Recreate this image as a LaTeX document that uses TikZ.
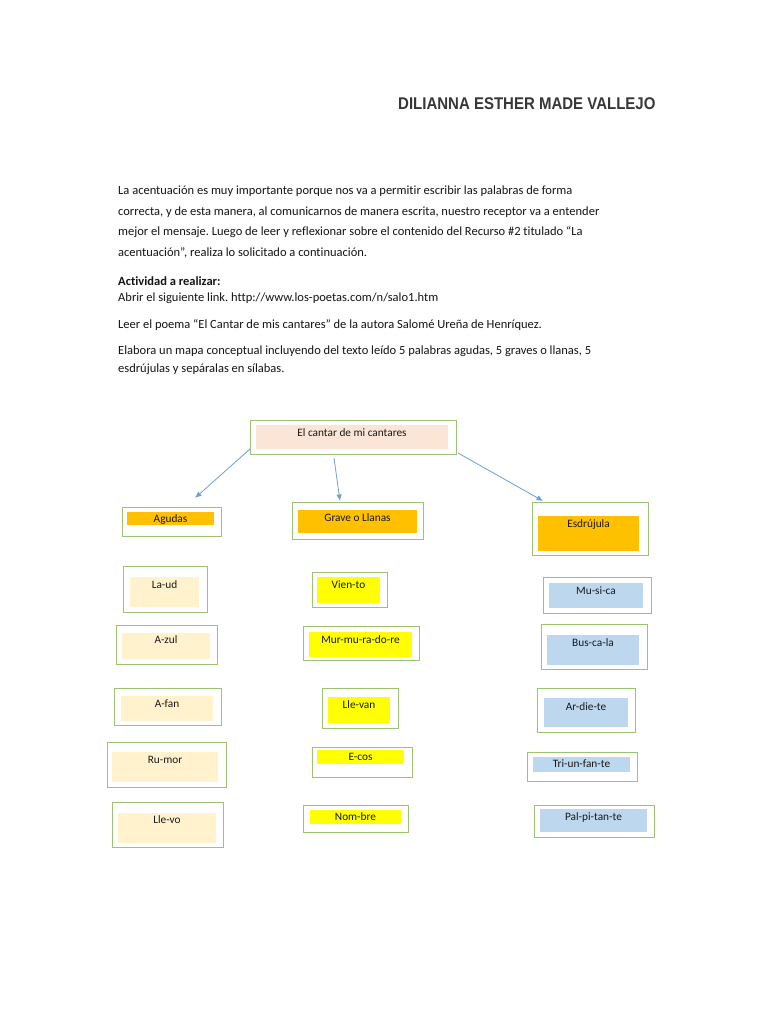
\documentclass[tikz,border=0pt]{standalone}
\usepackage{fontspec}
\setmainfont[Ligatures=NoCommon]{Carlito}
\newfontfamily\titlefont{Liberation Sans}
\usetikzlibrary{arrows.meta}
\definecolor{gborder}{RGB}{155,195,115}
\definecolor{pinkf}{RGB}{251,229,214}
\definecolor{goldf}{RGB}{255,192,0}
\definecolor{creamf}{RGB}{255,242,204}
\definecolor{yellowf}{RGB}{255,255,0}
\definecolor{bluef}{RGB}{189,215,238}
\definecolor{arrowc}{RGB}{110,160,215}
\definecolor{txt}{RGB}{25,25,25}
\definecolor{titlec}{RGB}{55,55,55}
\newcommand\cmbox[9]{%
  \node[obox, minimum width={#4-#2}, minimum height={#5-#3}] (#1) at ({(#2+#4)/2},{(#3+#5)/2}) {};
  \fill[#6] (#7) rectangle (#8);
  \node[lbl] (#1-t) at #9;}
\frenchspacing
\begin{document}
\begin{tikzpicture}[x=1pt,y=-1pt,
  obox/.style={draw=gborder, line width=0.9pt, fill=white, inner sep=0pt},
  lbl/.style={font=\fontsize{11.3}{13}\selectfont, text=txt, inner sep=0pt, anchor=base},
  body/.style={font=\fontsize{12.5}{14}\selectfont, text=black!92, inner sep=0pt, anchor=base west},
  arr/.style={draw=arrowc, line width=0.8pt, -{Latex[length=6.5pt,width=5.5pt]}}]
\useasboundingbox[fill=white] (0,0) rectangle (768,1024);
% title
\node[inner sep=0pt, anchor=base west, text=titlec, font=\titlefont\bfseries\fontsize{15}{17}\selectfont] (title) at (398,110) {\scalebox{1}[1.13]{DILIANNA ESTHER MADE VALLEJO}};
% body text
\node[body] (p1) at (118,195) {La acentuación es muy importante porque nos va a permitir escribir las palabras de forma};
\node[body] (p2) at (118,216) {correcta, y de esta manera, al comunicarnos de manera escrita, nuestro receptor va a entender};
\node[body] (p3) at (118,236) {mejor el mensaje. Luego de leer y reflexionar sobre el contenido del Recurso \#2 titulado “La};
\node[body] (p4) at (118,256) {acentuación”, realiza lo solicitado a continuación.};
\node[body, font=\bfseries\fontsize{12.5}{14}\selectfont] (p5) at (118,285) {Actividad a realizar:};
\node[body] (p6) at (118,301) {Abrir el siguiente link. http://www.los-poetas.com/n/salo1.htm};
\node[body] (p7) at (118,328) {Leer el poema “El Cantar de mis cantares” de la autora Salomé Ureña de Henríquez.};
\node[body] (p8) at (118,354) {Elabora un mapa conceptual incluyendo del texto leído 5 palabras agudas, 5 graves o llanas, 5};
\node[body] (p9) at (118,372) {esdrújulas y sepáralas en sílabas.};
% concept map
\cmbox{top}{250}{420}{456}{454}{pinkf}{256,425}{448,449}{(352,436.5) {El cantar de mi cantares}}
\cmbox{agudas}{122}{507}{221}{536}{goldf}{127,512}{214,525}{(170.5,522.5) {Agudas}}
\cmbox{grave}{292}{502}{423}{539}{goldf}{298,510}{417,533}{(357.5,521.5) {Grave o Llanas}}
\cmbox{esdr}{532}{502}{648}{555}{goldf}{538,516}{639,551}{(588.5,527.5) {Esdrújula}}
% agudas column
\cmbox{laud}{123}{566}{207}{612}{creamf}{130,577}{199,607}{(164.5,588.5) {La-ud}}
\cmbox{azul}{116}{625}{217}{664}{creamf}{122,633}{210,659}{(166,643.5) {A-zul}}
\cmbox{afan}{114}{688}{221}{725}{creamf}{121,696}{213,721}{(167,707.5) {A-fan}}
\cmbox{rumor}{107}{742}{226}{787}{creamf}{112,752}{218,782}{(165,763.5) {Ru-mor}}
\cmbox{llevo}{112}{802}{223}{847}{creamf}{118,813}{216,843}{(167,823.5) {Lle-vo}}
% graves column
\cmbox{viento}{312}{572}{387}{607}{yellowf}{317,577}{380,603}{(348.5,588.5) {Vien-to}}
\cmbox{murmu}{303}{626}{419}{660}{yellowf}{309,632}{412,657}{(360.5,643.5) {Mur-mu-ra-do-re}}
\cmbox{llevan}{322}{688}{398}{728}{yellowf}{328,697}{390,723}{(359,708.5) {Lle-van}}
\cmbox{ecos}{312}{747}{412}{777}{yellowf}{317,750}{404,764}{(360.5,760.5) {E-cos}}
\cmbox{nombre}{303}{805}{408}{832}{yellowf}{310,810}{401,824}{(355.5,820.5) {Nom-bre}}
% esdrujulas column
\cmbox{musica}{543}{577}{651}{613}{bluef}{549,583}{643,608}{(596,594.5) {Mu-si-ca}}
\cmbox{buscala}{541}{624}{647}{669}{bluef}{547,635}{639,665}{(593,646.5) {Bus-ca-la}}
\cmbox{ardiete}{537}{688}{635}{732}{bluef}{544,698}{628,727}{(586,710.5) {Ar-die-te}}
\cmbox{triunfante}{527}{752}{637}{781}{bluef}{533,757}{630,772}{(581.5,767.5) {Tri-un-fan-te}}
\cmbox{palpitante}{534}{805}{654}{837}{bluef}{540,809}{647,832}{(593.5,820.5) {Pal-pi-tan-te}}
% arrows
\coordinate (a1s) at (250,449);
\coordinate (a1e) at (195,498);
\coordinate (a2s) at (334,458);
\coordinate (a2e) at (340,501);
\coordinate (a3s) at (458,453);
\coordinate (a3e) at (543,501);
\draw[arr] (a1s) -- (a1e);
\draw[arr] (a2s) -- (a2e);
\draw[arr] (a3s) -- (a3e);
\end{tikzpicture}
\end{document}
